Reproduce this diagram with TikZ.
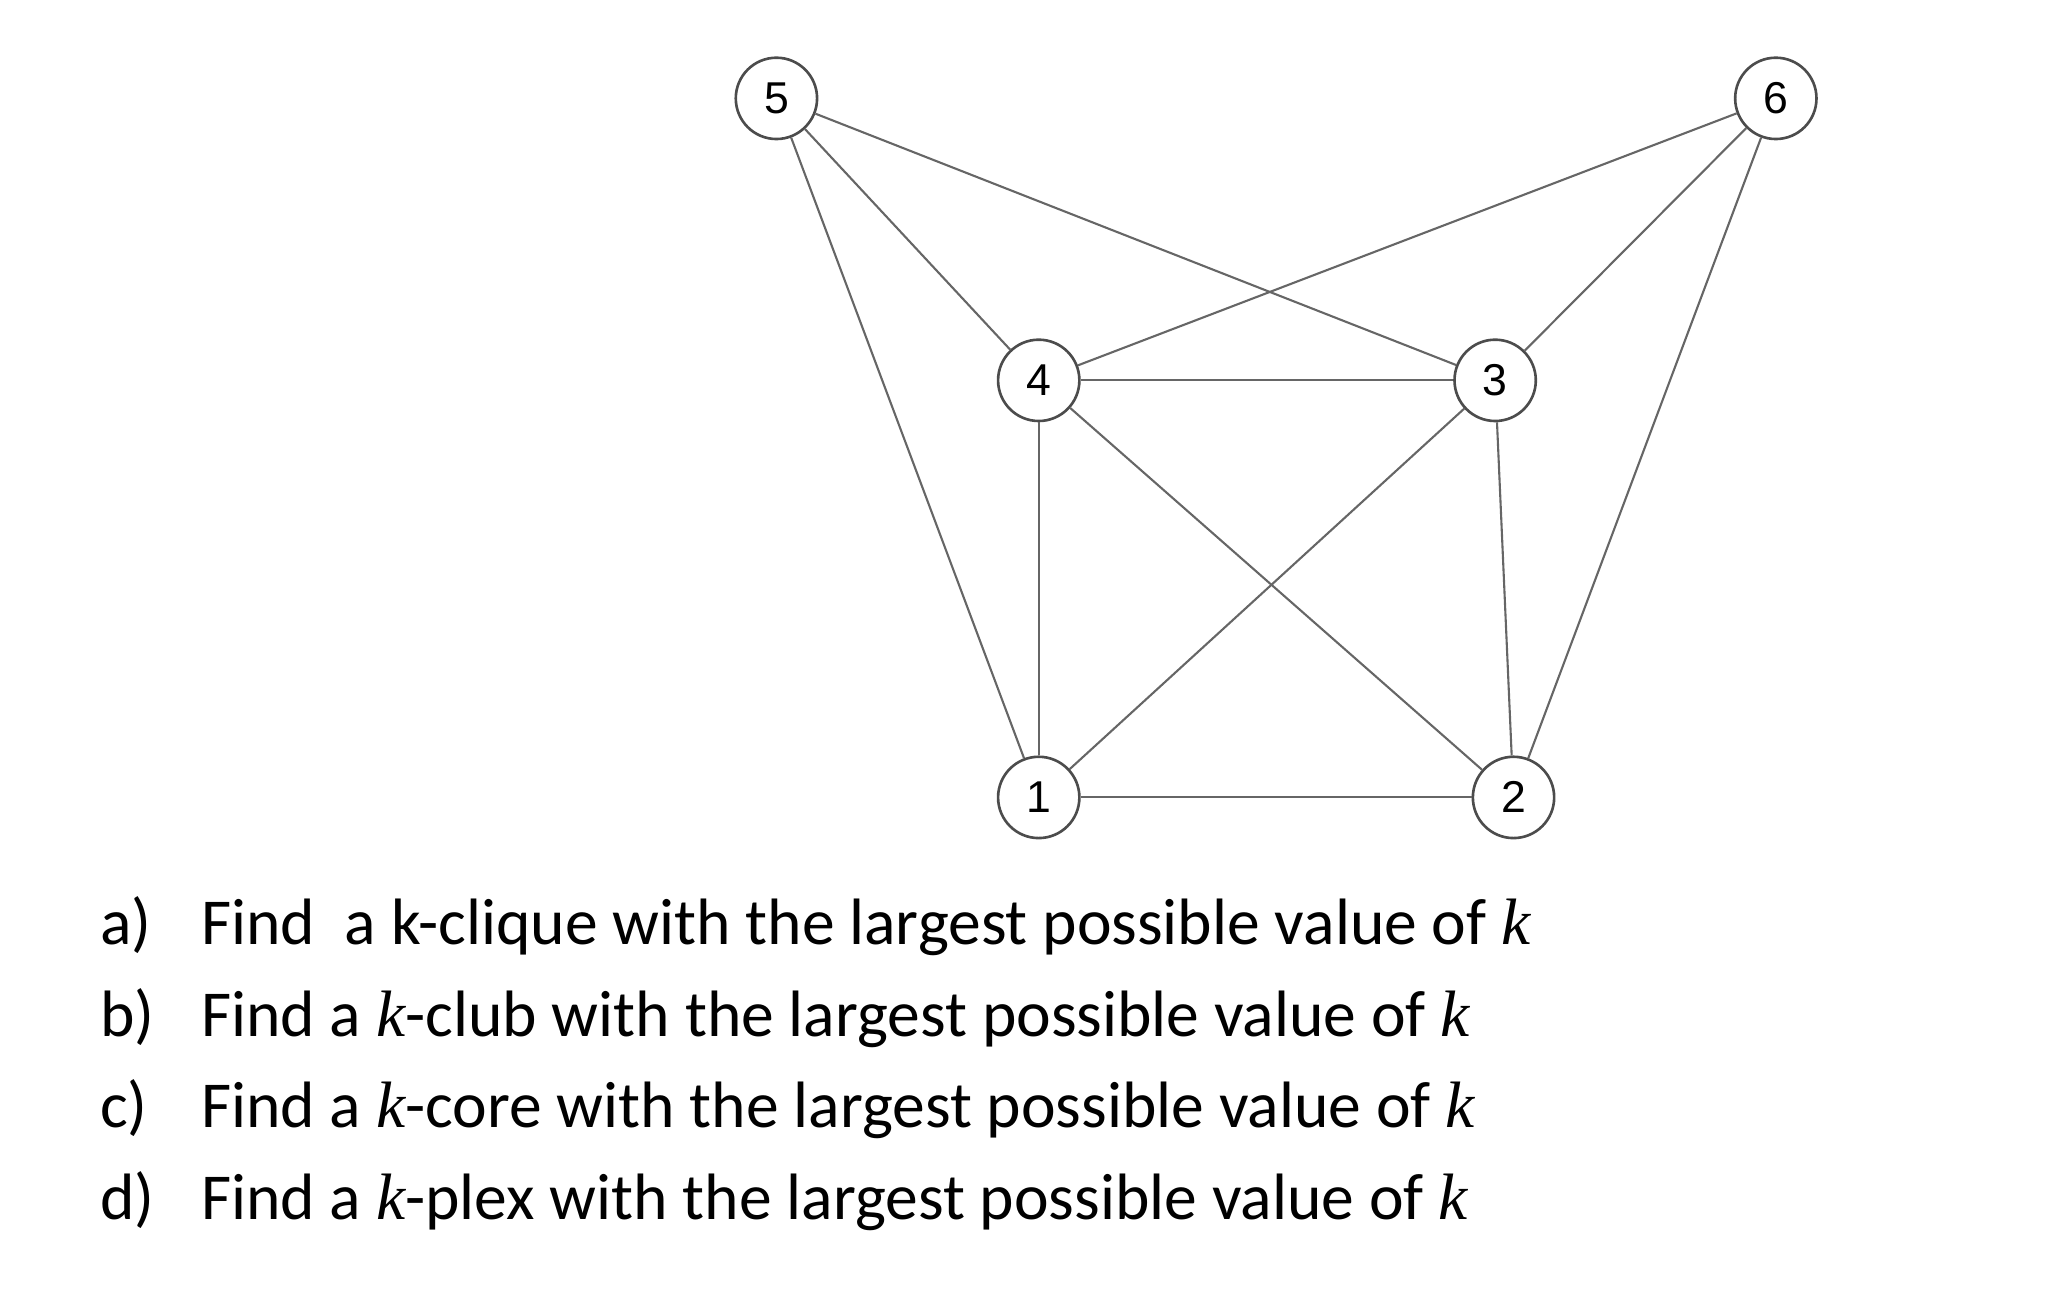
\documentclass[tikz,border=0pt]{standalone}
\usepackage{fontspec}
\setmainfont{Carlito}
\newfontfamily\nodefont{Liberation Sans}
\newfontfamily\kfont{Liberation Serif}
\newcommand{\kk}{{\kfont\itshape k}}
\begin{document}
\begin{tikzpicture}[x=0.5pt,y=-0.5pt,
  vert/.style={circle,draw=black!70,line width=1pt,minimum size=31pt,inner sep=0pt,font=\nodefont\fontsize{17}{17}\selectfont,fill=white},
  edge/.style={draw=black!60,line width=0.8pt},
  qline/.style={anchor=base west,font=\fontsize{25}{28}\selectfont,inner sep=0pt}]
\useasboundingbox (0,0) rectangle (1560,996);
\node[vert] (n5) at (592,75) {5};
\node[vert] (n6) at (1354,75) {6};
\node[vert] (n4) at (792,290) {4};
\node[vert] (n3) at (1140,290) {3};
\node[vert] (n1) at (792,608) {1};
\node[vert] (n2) at (1154,608) {2};
\foreach \a/\b in {n5/n4,n5/n3,n5/n1,n6/n4,n6/n3,n6/n2,n4/n3,n4/n1,n4/n2,n3/n1,n3/n2,n1/n2}
  \draw[edge] (\a) -- (\b);
\node[qline] (la) at (76,720) {a)};
\node[qline] (ta) at (153,720) {Find\ \ a k-clique with the largest possible value of \kk};
\node[qline] (lb) at (76,790) {b)};
\node[qline] (tb) at (153,790) {Find a \kk-club with the largest possible value of \kk};
\node[qline] (lc) at (76,860) {c)};
\node[qline] (tc) at (153,860) {Find a \kk-core with the largest possible value of \kk};
\node[qline] (ld) at (76,930) {d)};
\node[qline] (td) at (153,930) {Find a \kk-plex with the largest possible value of \kk};
\end{tikzpicture}
\end{document}
